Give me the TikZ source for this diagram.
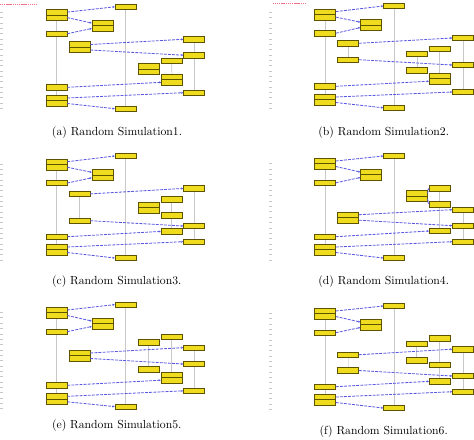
\documentclass[tikz,border=0pt]{standalone}
\usepackage{xcolor}
\usepackage{tikz}
\usetikzlibrary{arrows.meta, backgrounds}
\definecolor{boxfill}{HTML}{F0DC1E}
\definecolor{boxline}{HTML}{5E5400}
\definecolor{msgblue}{HTML}{5858E4}
\definecolor{lifeline}{HTML}{C8C8C8}
\definecolor{markred}{HTML}{F07080}

\begin{document}
\begin{tikzpicture}[
    x=0.03cm, y=-0.03cm,
    obj/.style={draw=boxline, fill=boxfill, line width=0.45pt, inner sep=0pt, minimum width=0.63cm, minimum height=0.165cm},
    msg/.style={draw=msgblue, line width=0.7pt, dash pattern=on 2.5pt off 1pt, -{Stealth[length=1.8pt, width=1.8pt]}},
    life/.style={draw=lifeline, line width=0.6pt},
    axistick/.style={draw=lifeline, line width=0.3pt},
    redmark/.style={draw=markred, line width=0.5pt, dash pattern=on 1pt off 0.6pt},
    captext/.style={font=\normalsize, inner sep=0pt}
]
\useasboundingbox (0,0) rectangle (474,439);

% (a)
\begin{scope}
\foreach \k in {0,...,18} \draw[axistick] (0,12+5.35*\k) -- ++(2.5,0);
\draw[redmark] (0,4) -- (37,4);
\node[obj] (aA1t) at (56.5,12.1) {};
\node[obj] (aA1b) at (56.5,17.6) {};
\node[obj] (aA2) at (56.5,33.7) {};
\node[obj] (aB) at (125.5,6.8) {};
\node[obj] (aC1) at (102.5,23) {};
\node[obj] (aC2) at (102.5,28.5) {};
\node[obj] (aD1) at (79.5,44.5) {};
\node[obj] (aD2) at (79.5,50) {};
\node[obj] (aE) at (194,39.3) {};
\node[obj] (aF) at (194,55.2) {};
\node[obj] (aG) at (171.5,60.7) {};
\node[obj] (aH1) at (148.5,66.1) {};
\node[obj] (aH2) at (148.5,71.6) {};
\node[obj] (aI1) at (172,76.8) {};
\node[obj] (aI2) at (172,82.3) {};
\node[obj] (aJ) at (56.5,87.3) {};
\node[obj] (aK1) at (56.5,98) {};
\node[obj] (aK2) at (56.5,103.5) {};
\node[obj] (aL) at (194,92.7) {};
\node[obj] (aM) at (125.5,108.7) {};
\begin{scope}[on background layer]
\draw[life] (aA1b) -- (aK1);
\draw[life] (aB) -- (aM);
\draw[life] (aE) -- (aL);
\draw[life] (aG) -- (aI1);
\end{scope}
\draw[msg] (aA1t.east) -- (aB.west);
\draw[msg] (aA1b.east) -- (aC1.west);
\draw[msg] (aA2.east) -- (aC2.west);
\draw[msg] (aD1.east) -- (aE.west);
\draw[msg] (aD2.east) -- (aF.west);
\draw[msg] (aJ.east) -- (aI2.west);
\draw[msg] (aK1.east) -- (aL.west);
\draw[msg] (aK2.east) -- (aM.west);
\node[captext] (capa) at (117,133) {(a) Random Simulation1.};
\end{scope}

% (b)
\begin{scope}[shift={(268.5,0)}]
\foreach \k in {0,...,18} \draw[axistick] (0.5,12+5.35*\k) -- ++(2.5,0);
\draw[redmark] (4.5,3.3) -- (36.5,3.3);
\node[obj] (bA1t) at (56.5,11.6) {};
\node[obj] (bA1b) at (56.5,17.1) {};
\node[obj] (bA2) at (56.5,33.2) {};
\node[obj] (bB) at (125.5,6) {};
\node[obj] (bC1) at (102.5,22.1) {};
\node[obj] (bC2) at (102.5,27.6) {};
\node[obj] (bD1) at (79.5,43.3) {};
\node[obj] (bD2) at (79.5,59.7) {};
\node[obj] (bE) at (194.5,38) {};
\node[obj] (bF) at (194.5,65) {};
\node[obj] (bG) at (171.2,48.7) {};
\node[obj] (bH1) at (148.5,54) {};
\node[obj] (bH2) at (148.5,70.3) {};
\node[obj] (bI1) at (171.2,75.7) {};
\node[obj] (bI2) at (171.2,81.2) {};
\node[obj] (bJ) at (56.5,86.3) {};
\node[obj] (bK1) at (56.5,97) {};
\node[obj] (bK2) at (56.5,102.5) {};
\node[obj] (bL) at (194.5,92) {};
\node[obj] (bM) at (125.5,107.8) {};
\begin{scope}[on background layer]
\draw[life] (bA1b) -- (bK1);
\draw[life] (bB) -- (bM);
\draw[life] (bD1) -- (bD2);
\draw[life] (bE) -- (bL);
\draw[life] (bG) -- (bI1);
\draw[life] (bH1) -- (bH2);
\end{scope}
\draw[msg] (bA1t.east) -- (bB.west);
\draw[msg] (bA1b.east) -- (bC1.west);
\draw[msg] (bA2.east) -- (bC2.west);
\draw[msg] (bD1.east) -- (bE.west);
\draw[msg] (bD2.east) -- (bF.west);
\draw[msg] (bJ.east) -- (bI2.west);
\draw[msg] (bK1.east) -- (bL.west);
\draw[msg] (bK2.east) -- (bM.west);
\node[captext] (capb) at (115.2,132.3) {(b) Random Simulation2.};
\end{scope}

% (c)
\begin{scope}[shift={(0,149.7)}]
\foreach \k in {0,...,18} \draw[axistick] (0,14+5.35*\k) -- ++(2.5,0);
\node[obj] (cA1t) at (56.5,12) {};
\node[obj] (cA1b) at (56.5,17.5) {};
\node[obj] (cA2) at (56.5,33.3) {};
\node[obj] (cB) at (125.5,6.3) {};
\node[obj] (cC1) at (102.5,22.6) {};
\node[obj] (cC2) at (102.5,28.1) {};
\node[obj] (cD1) at (79.5,44.2) {};
\node[obj] (cD2) at (79.5,71) {};
\node[obj] (cE) at (194,38.7) {};
\node[obj] (cF) at (194,76.3) {};
\node[obj] (cG1) at (171.5,49.7) {};
\node[obj] (cH1) at (148.5,55) {};
\node[obj] (cH2) at (148.5,60.5) {};
\node[obj] (cG2) at (171.5,65.7) {};
\node[obj] (cI) at (171.5,81.7) {};
\node[obj] (cJ) at (56.5,87) {};
\node[obj] (cK1) at (56.5,97.3) {};
\node[obj] (cK2) at (56.5,102.8) {};
\node[obj] (cL) at (194,92) {};
\node[obj] (cM) at (125.5,108.3) {};
\begin{scope}[on background layer]
\draw[life] (cA1b) -- (cK1);
\draw[life] (cB) -- (cM);
\draw[life] (cD1) -- (cD2);
\draw[life] (cE) -- (cL);
\draw[life] (cG1) -- (cI);
\end{scope}
\draw[msg] (cA1t.east) -- (cB.west);
\draw[msg] (cA1b.east) -- (cC1.west);
\draw[msg] (cA2.east) -- (cC2.west);
\draw[msg] (cD1.east) -- (cE.west);
\draw[msg] (cD2.east) -- (cF.west);
\draw[msg] (cJ.east) -- (cI.west);
\draw[msg] (cK1.east) -- (cL.west);
\draw[msg] (cK2.east) -- (cM.west);
\node[captext] (capc) at (116.7,132) {(c) Random Simulation3.};
\end{scope}

% (d)
\begin{scope}[shift={(268.5,149.5)}]
\foreach \k in {0,...,18} \draw[axistick] (0.5,14+5.35*\k) -- ++(2.5,0);
\node[obj] (dA1t) at (56.5,11.5) {};
\node[obj] (dA1b) at (56.5,17) {};
\node[obj] (dA2) at (56.5,33.3) {};
\node[obj] (dB) at (125.5,6.5) {};
\node[obj] (dC1) at (102.5,22.5) {};
\node[obj] (dC2) at (102.5,28) {};
\node[obj] (dG1) at (148.2,43.9) {};
\node[obj] (dG2) at (148.2,49.4) {};
\node[obj] (dP) at (171.2,38.7) {};
\node[obj] (dQ) at (171.2,54.7) {};
\node[obj] (dD1) at (79.5,65.2) {};
\node[obj] (dD2) at (79.5,70.7) {};
\node[obj] (dE) at (194.5,60.2) {};
\node[obj] (dF) at (194.5,76.2) {};
\node[obj] (dI) at (171.2,81.5) {};
\node[obj] (dJ) at (56.5,87.2) {};
\node[obj] (dK1) at (56.5,97.5) {};
\node[obj] (dK2) at (56.5,103) {};
\node[obj] (dL) at (194.5,92.2) {};
\node[obj] (dM) at (125.5,108.5) {};
\begin{scope}[on background layer]
\draw[life] (dA1b) -- (dK1);
\draw[life] (dB) -- (dM);
\draw[life] (dP) -- (dI);
\draw[life] (dE) -- (dL);
\end{scope}
\draw[msg] (dA1t.east) -- (dB.west);
\draw[msg] (dA1b.east) -- (dC1.west);
\draw[msg] (dA2.east) -- (dC2.west);
\draw[msg] (dG1.east) -- (dP.west);
\draw[msg] (dG2.east) -- (dQ.west);
\draw[msg] (dD1.east) -- (dE.west);
\draw[msg] (dD2.east) -- (dF.west);
\draw[msg] (dJ.east) -- (dI.west);
\draw[msg] (dK1.east) -- (dL.west);
\draw[msg] (dK2.east) -- (dM.west);
\node[captext] (capd) at (115.2,132.2) {(d) Random Simulation4.};
\end{scope}

% (e)
\begin{scope}[shift={(0,298.3)}]
\foreach \k in {0,...,18} \draw[axistick] (0,14+5.35*\k) -- ++(2.5,0);
\node[obj] (eA1t) at (56.5,11.7) {};
\node[obj] (eA1b) at (56.5,17.2) {};
\node[obj] (eA2) at (56.5,33.3) {};
\node[obj] (eB) at (125.5,6.3) {};
\node[obj] (eC1) at (102.5,22.7) {};
\node[obj] (eC2) at (102.5,28.2) {};
\node[obj] (eG1) at (148.5,44) {};
\node[obj] (eG2) at (171.5,38.5) {};
\node[obj] (eD1) at (79.5,54.7) {};
\node[obj] (eD2) at (79.5,60.2) {};
\node[obj] (eE) at (194,49.3) {};
\node[obj] (eF) at (194,65.7) {};
\node[obj] (eH) at (148.5,71) {};
\node[obj] (eI1) at (171.5,76.4) {};
\node[obj] (eI2) at (171.5,81.9) {};
\node[obj] (eJ) at (56.5,87) {};
\node[obj] (eK1) at (56.5,98) {};
\node[obj] (eK2) at (56.5,103.5) {};
\node[obj] (eL) at (194,92.5) {};
\node[obj] (eM) at (125.5,108.3) {};
\begin{scope}[on background layer]
\draw[life] (eA1b) -- (eK1);
\draw[life] (eB) -- (eM);
\draw[life] (eG1) -- (eH);
\draw[life] (eG2) -- (eI1);
\draw[life] (eE) -- (eL);
\end{scope}
\draw[msg] (eA1t.east) -- (eB.west);
\draw[msg] (eA1b.east) -- (eC1.west);
\draw[msg] (eA2.east) -- (eC2.west);
\draw[msg] (eD1.east) -- (eE.west);
\draw[msg] (eD2.east) -- (eF.west);
\draw[msg] (eJ.east) -- (eI2.west);
\draw[msg] (eK1.east) -- (eL.west);
\draw[msg] (eK2.east) -- (eM.west);
\node[captext] (cape) at (116.7,127.7) {(e) Random Simulation5.};
\end{scope}

% (f)
\begin{scope}[shift={(268.5,299)}]
\foreach \k in {0,...,18} \draw[axistick] (0.5,14+5.35*\k) -- ++(2.5,0);
\node[obj] (fA1t) at (56.5,12) {};
\node[obj] (fA1b) at (56.5,17.5) {};
\node[obj] (fA2) at (56.5,33.7) {};
\node[obj] (fB) at (125.5,7) {};
\node[obj] (fC1) at (102.5,23) {};
\node[obj] (fC2) at (102.5,28.5) {};
\node[obj] (fG1) at (148.2,44.7) {};
\node[obj] (fG2) at (171.2,39.2) {};
\node[obj] (fE) at (194.5,50.2) {};
\node[obj] (fD1) at (79.5,55.7) {};
\node[obj] (fH1) at (148.2,61.2) {};
\node[obj] (fH2) at (171.2,66) {};
\node[obj] (fD2) at (79.5,71.5) {};
\node[obj] (fF) at (194.5,77) {};
\node[obj] (fI) at (171.2,82.3) {};
\node[obj] (fJ) at (56.5,87.7) {};
\node[obj] (fK1) at (56.5,98) {};
\node[obj] (fK2) at (56.5,103.5) {};
\node[obj] (fL) at (194.5,92.7) {};
\node[obj] (fM) at (125.5,109) {};
\begin{scope}[on background layer]
\draw[life] (fA1b) -- (fK1);
\draw[life] (fB) -- (fM);
\draw[life] (fG1) -- (fH1);
\draw[life] (fG2) -- (fI);
\draw[life] (fE) -- (fL);
\draw[life, lifeline!50] (fD1) -- (fD2);
\end{scope}
\draw[msg] (fA1t.east) -- (fB.west);
\draw[msg] (fA1b.east) -- (fC1.west);
\draw[msg] (fA2.east) -- (fC2.west);
\draw[msg] (fD1.east) -- (fE.west);
\draw[msg] (fD2.east) -- (fF.west);
\draw[msg] (fJ.east) -- (fI.west);
\draw[msg] (fK1.east) -- (fL.west);
\draw[msg] (fK2.east) -- (fM.west);
\node[captext] (capf) at (115.2,132.7) {(f) Random Simulation6.};
\end{scope}
\end{tikzpicture}
\end{document}
